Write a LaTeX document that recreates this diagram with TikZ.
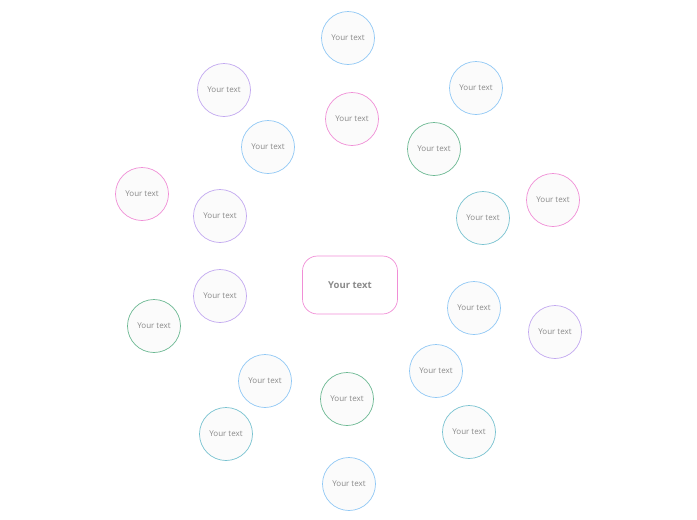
\documentclass[tikz,border=0pt]{standalone}
\usepackage{fontspec}
\setmainfont{Open Sans}
\definecolor{cblue}{HTML}{90C8F5}
\definecolor{cpink}{HTML}{F08ED6}
\definecolor{cpurp}{HTML}{C2A8F0}
\definecolor{cgreen}{HTML}{6BB892}
\definecolor{cteal}{HTML}{78C2D0}
\definecolor{ctext}{HTML}{8A8A8A}
\definecolor{cfill}{HTML}{FBFBFB}
\begin{document}
\begin{tikzpicture}[x=1pt,y=-1pt,
  bub/.style={circle,draw=#1,fill=cfill,line width=0.7pt,minimum size=53pt,inner sep=0pt,text=ctext,font=\fontsize{8}{10}\selectfont}]
\useasboundingbox (0,-1) rectangle (697,519);
\node[draw=cpink,line width=0.7pt,rounded corners=15pt,minimum width=95pt,minimum height=58pt,text=ctext,font=\fontsize{9.5}{11}\selectfont\bfseries] (c) at (350,284) {Your text};
\foreach \n/\x/\y/\c in {a/348/37/cblue,b/224/89/cpurp,d/476/87/cblue,e/352/118/cpink,f/268/146/cblue,g/434/148/cgreen,h/142/193/cpink,i/220/215/cpurp,j/553/199/cpink,k/483/217/cteal,l/220/295/cpurp,m/154/325/cgreen,n/474/307/cblue,o/555/331/cpurp,p/265/380/cblue,q/347/398/cgreen,r/436/370/cblue,s/226/433/cteal,t/469/431/cteal,u/349/483/cblue}
  \node[bub=\c] (\n) at (\x,\y) {Your text};
\end{tikzpicture}
\end{document}
